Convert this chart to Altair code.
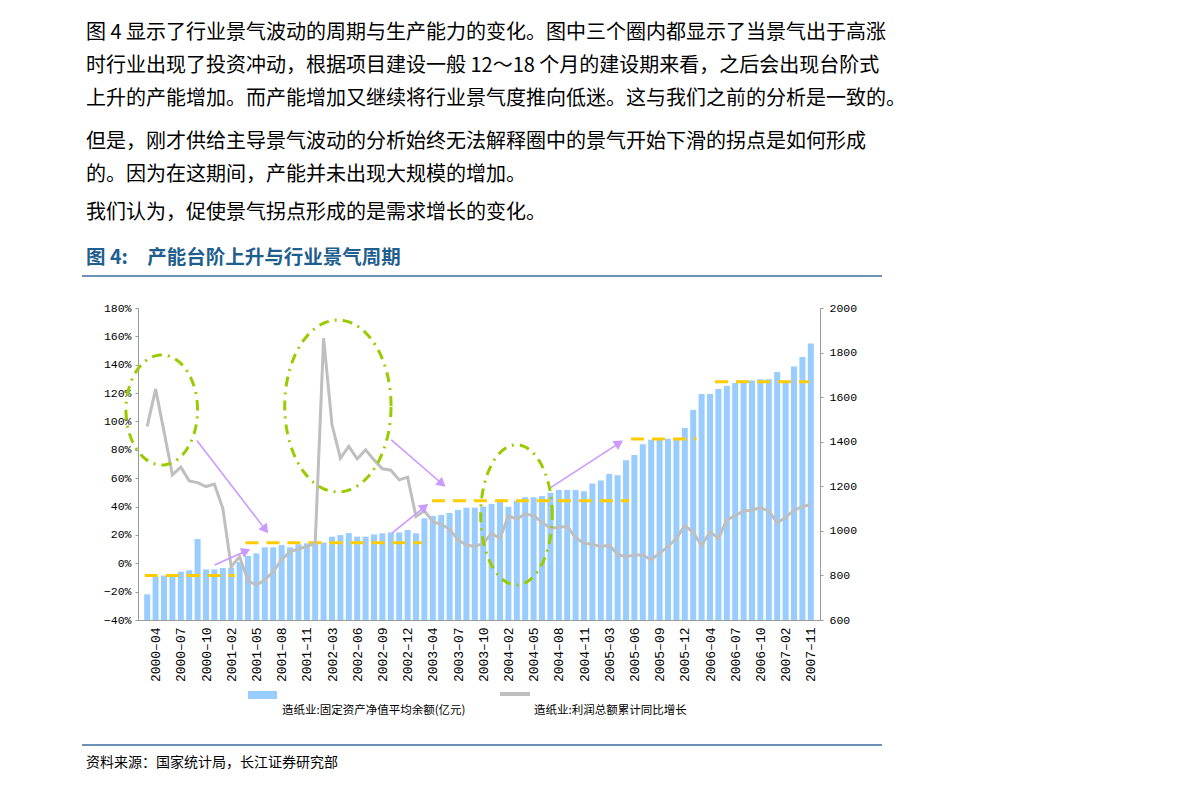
import json
import math
import numpy as np
import pandas as pd
import altair as alt

# ---------------- data ----------------
months = [
    "2000-03", "2000-04", "2000-05", "2000-06", "2000-07", "2000-08", "2000-09", "2000-10", "2000-11", "2000-12",
    "2001-02", "2001-03", "2001-04", "2001-05", "2001-06", "2001-07", "2001-08", "2001-09", "2001-10", "2001-11", "2001-12",
    "2002-02", "2002-03", "2002-04", "2002-05", "2002-06", "2002-07", "2002-08", "2002-09", "2002-10", "2002-11", "2002-12",
    "2003-02", "2003-03", "2003-04", "2003-05", "2003-06", "2003-07", "2003-08", "2003-09", "2003-10", "2003-11", "2003-12",
    "2004-02", "2004-03", "2004-04", "2004-05", "2004-06", "2004-07", "2004-08", "2004-09", "2004-10", "2004-11", "2004-12",
    "2005-02", "2005-03", "2005-04", "2005-05", "2005-06", "2005-07", "2005-08", "2005-09", "2005-10", "2005-11", "2005-12",
    "2006-02", "2006-03", "2006-04", "2006-05", "2006-06", "2006-07", "2006-08", "2006-09", "2006-10", "2006-11", "2006-12",
    "2007-02", "2007-05", "2007-08", "2007-11",
]
# 造纸业:固定资产净值平均余额(亿元)  -> right axis
assets = [715, 794, 799, 800, 817, 823, 963, 827, 827, 833,
          835, 860, 887, 899, 926, 926, 936, 926, 940, 944, 951,
          947, 974, 981, 990, 974, 974, 984, 989, 993, 993, 1004,
          989, 1056, 1067, 1071, 1080, 1094, 1104, 1104, 1109, 1121, 1132,
          1108, 1135, 1151, 1151, 1156, 1171, 1183, 1183, 1183, 1178, 1213,
          1226, 1255, 1250, 1317, 1340, 1389, 1409, 1409, 1413, 1409, 1461,
          1542, 1614, 1614, 1636, 1651, 1663, 1663, 1675, 1680, 1680, 1713,
          1668, 1737, 1780, 1841]
# 造纸业:利润总额累计同比增长 (%) -> left axis
profit = [96.5, 122.8, 93.0, 62.4, 67.8, 58.1, 56.9, 54.1, 55.8, 38.8,
          -2.4, 4.7, -12.5, -15.3, -11.8, -5.9, 2.4, 8.2, 10.1, 11.8, 14.1,
          158.8, 97.6, 74.1, 82.4, 73.6, 80.0, 72.9, 66.6, 65.6, 58.8, 60.7,
          33.0, 37.0, 29.4, 27.5, 24.0, 16.5, 12.9, 11.8, 14.1, 21.0, 17.6,
          33.4, 31.2, 34.8, 33.6, 28.9, 24.7, 25.4, 26.0, 18.1, 14.1, 13.4,
          11.7, 12.9, 6.3, 4.7, 5.9, 5.9, 2.3, 7.1, 11.7, 17.6, 26.5,
          21.9, 12.4, 22.3, 17.6, 30.5, 33.6, 36.9, 37.4, 39.2, 36.9, 28.6,
          32.2, 37.4, 39.9, 41.6]

# capacity steps (right axis level, from/to category position)
step_levels = [800, 947, 1135, 1412, 1669]
step_from = [-0.3, 11.7, 33.9, 57.6, 67.6]
step_to = [10.4, 32.7, 57.4, 65.4, 78.8]

# annotation ellipses (centre position, centre %, half-width in categories, half-height in %)
ell_cx = [1.73, 22.7, 43.96]
ell_cy = [108.1, 110.9, 34.1]
ell_rx = [4.26, 6.33, 4.26]
ell_ry = [38.8, 60.6, 49.4]

# annotation arrows (start / tip in category position and %)
arr_x0 = [5.92, 8.03, 29.06, 29.14, 48.03]
arr_y0 = [86.5, -1.2, 87.0, 21.2, 53.3]
arr_x1 = [14.4, 12.25, 35.5, 33.44, 56.63]
arr_y1 = [21.2, 9.9, 54.0, 41.8, 86.5]

label_idx = list(range(1, 80, 3))
left_ticks = [-40, -20, 0, 20, 40, 60, 80, 100, 120, 140, 160, 180]
right_ticks = [600, 800, 1000, 1200, 1400, 1600, 1800, 2000]

para_lines = [
    "图 4 显示了行业景气波动的周期与生产能力的变化。图中三个圈内都显示了当景气出于高涨",
    "时行业出现了投资冲动，根据项目建设一般 12～18 个月的建设期来看，之后会出现台阶式",
    "上升的产能增加。而产能增加又继续将行业景气度推向低迷。这与我们之前的分析是一致的。",
    "但是，刚才供给主导景气波动的分析始终无法解释圈中的景气开始下滑的拐点是如何形成",
    "的。因为在这期间，产能并未出现大规模的增加。",
    "我们认为，促使景气拐点形成的是需求增长的变化。",
]
fig_title = "图 4:\u3000产能台阶上升与行业景气周期"
legend_bar = "造纸业:固定资产净值平均余额(亿元)"
legend_line = "造纸业:利润总额累计同比增长"
source_text = "资料来源：国家统计局，长江证券研究部"

# ---------------- layout ----------------
W, H = 682, 312
PX = W / 80.0
LMIN, LMAX = -40.0, 180.0

BLUE = "#99CCFF"
GREY = "#BFBFBF"
YELLOW = "#FFCC00"
GREEN = "#99CC00"
PURPLE = "#CC99FF"
AXC = "#9A9A9A"
CJK = "Noto Sans CJK SC"

df = pd.DataFrame({"idx": list(range(len(months))), "month": months,
                   "assets": assets, "profit": [p / 100 for p in profit]})

disp = [m.replace("-", "–") for m in months]
x_scale = alt.Scale(domain=[-0.5, 79.5], nice=False, zero=False)
x_axis = alt.Axis(values=label_idx, labelExpr=json.dumps(disp, ensure_ascii=False) + "[datum.value]",
                  labelAngle=270, ticks=False, grid=False, title=None, domainColor=AXC,
                  labelFont="Liberation Mono", labelFontSize=13, labelColor="#000000",
                  labelPadding=7)


def X(field):
    return alt.X(field, type="quantitative", scale=x_scale, axis=x_axis)


def X2(field):
    return alt.X2(field)


yl_scale = alt.Scale(domain=[LMIN / 100, LMAX / 100], nice=False, zero=False)
yl_axis = alt.Axis(orient="left", values=[round(v / 100, 2) for v in left_ticks], format=".0%",
                   grid=False, title=None, tickSize=3, tickColor=AXC, domainColor=AXC,
                   labelFont="Liberation Mono", labelFontSize=11.5, labelColor="#000000", labelPadding=4)
yr_scale = alt.Scale(domain=[600, 2000], nice=False, zero=False)
yr_axis = alt.Axis(orient="right", values=right_ticks, format="d",
                   grid=False, title=None, tickSize=3, tickColor=AXC, domainColor=AXC,
                   labelFont="Liberation Mono", labelFontSize=11.5, labelColor="#000000", labelPadding=6)


def YL(field):
    return alt.Y(field, type="quantitative", scale=yl_scale, axis=yl_axis)


def YR(field):
    return alt.Y(field, type="quantitative", scale=yr_scale, axis=yr_axis)


# bars + capacity steps (right scale)
bars = alt.Chart(df).mark_bar(size=6, color=BLUE).encode(
    x=X("idx"), y=YR("assets"), y2=alt.datum(600))

steps_df = pd.DataFrame({"level": step_levels, "x0": step_from, "x1": step_to})
steps = alt.Chart(steps_df).mark_rule(color=YELLOW, strokeWidth=3, strokeDash=[13, 8]).encode(
    x=X("x0"), x2=X2("x1"), y=YR("level"))

right_layer = alt.layer(bars, steps)

# profit line (left scale)
line = alt.Chart(df).mark_line(color=GREY, strokeWidth=3).encode(
    x=X("idx"), y=YL("profit"))

# ellipses
rows = []
n = 120
for k in range(3):
    for j in range(n + 1):
        t = 2 * math.pi * j / n
        rows.append({"e": k, "o": j,
                     "ex": ell_cx[k] + ell_rx[k] * math.cos(t),
                     "ey": (ell_cy[k] + ell_ry[k] * math.sin(t)) / 100})
ell_df = pd.DataFrame(rows)
ellipses = alt.Chart(ell_df).mark_line(color=GREEN, strokeWidth=3, strokeDash=[10, 6, 2, 6],
                                       clip=False).encode(
    x=X("ex"), y=YL("ey"), detail="e:N", order="o:Q")


# arrows
def to_px(i, v):
    return (i + 0.5) * PX, (LMAX - v) / (LMAX - LMIN) * H


def from_px(px, py):
    return px / PX - 0.5, LMAX - py * (LMAX - LMIN) / H


HEAD = 110
h = math.sqrt(3) / 2 * math.sqrt(HEAD) / 2
arows = []
for a in range(len(arr_x0)):
    sx, sy = to_px(arr_x0[a], arr_y0[a])
    tx, ty = to_px(arr_x1[a], arr_y1[a])
    dx, dy = tx - sx, ty - sy
    L = math.hypot(dx, dy)
    ux, uy = dx / L, dy / L
    cx, cy = tx - h * ux, ty - h * uy
    hx, hy = from_px(cx, cy)
    ang = math.degrees(math.atan2(dx, -dy)) % 360
    arows.append({"x0": arr_x0[a], "y0": arr_y0[a] / 100, "hx": hx, "hy": hy / 100, "ang": ang})
arr_df = pd.DataFrame(arows)
arrow_lines = alt.Chart(arr_df).mark_rule(color=PURPLE, strokeWidth=1.6, clip=False).encode(
    x=X("x0"), x2=X2("hx"), y=YL("y0"), y2=alt.Y2("hy"))
arrow_heads = alt.Chart(arr_df).mark_point(shape="triangle-up", filled=True, size=HEAD,
                                           color=PURPLE, opacity=1, clip=False).encode(
    x=X("hx"), y=YL("hy"), angle=alt.Angle("ang:Q", scale=None))

left_layer = alt.layer(line, ellipses, arrow_lines, arrow_heads)

# ---------------- page texts / decorations ----------------
one = pd.DataFrame({"k": [0]})
OX, OY = 138, 308  # plot origin on the page


def page_text(txt, px, py, size, color="#000000", weight="normal", font=CJK):
    return alt.Chart(one).mark_text(text=txt, align="left", baseline="middle", font=font,
                                    fontSize=size, color=color, fontWeight=weight).encode(
        x=alt.value(px - OX), y=alt.value(py - OY))


para_y = [33, 66, 99, 142, 175, 213]
texts = [page_text(t, 86, yy, 20) for t, yy in zip(para_lines, para_y)]
texts.append(page_text(fig_title, 86, 258, 19.5, color="#1F5F8F", weight="bold"))
texts.append(page_text(source_text, 86, 763, 14))
texts.append(page_text(legend_bar, 282, 711, 11.5))
texts.append(page_text(legend_line, 534, 711, 11.5))

rule_top = alt.Chart(one).mark_rule(color="#3A6E9E", strokeWidth=1.5).encode(
    x=alt.value(82 - OX), x2=alt.value(882 - OX), y=alt.value(276 - OY))
rule_bot = alt.Chart(one).mark_rule(color="#3A6E9E", strokeWidth=1.5).encode(
    x=alt.value(82 - OX), x2=alt.value(882 - OX), y=alt.value(745 - OY))
leg_rect = alt.Chart(one).mark_rect(color=BLUE).encode(
    x=alt.value(248 - OX), x2=alt.value(277 - OX), y=alt.value(691 - OY), y2=alt.value(699 - OY))
leg_line = alt.Chart(one).mark_rule(color=GREY, strokeWidth=4).encode(
    x=alt.value(500 - OX), x2=alt.value(530 - OX), y=alt.value(694 - OY))

chart = alt.layer(right_layer, left_layer, rule_top, rule_bot, leg_rect, leg_line, *texts).resolve_scale(
    y="independent"
).properties(
    width=W, height=H,
    autosize=alt.AutoSizeParams(type="none"),
    padding={"left": OX, "top": OY, "right": 1190 - OX - W, "bottom": 791 - OY - H},
    background="#FFFFFF",
).configure_view(stroke=None)

chart.save("out.html", embed_options={"renderer": "svg", "actions": False})
